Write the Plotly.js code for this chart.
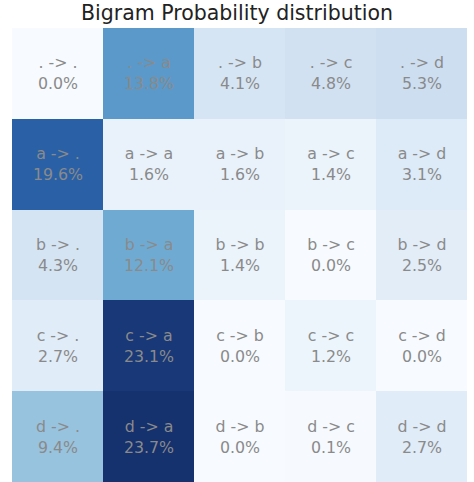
<!DOCTYPE html>
<html>
<head>
<meta charset="utf-8">
<script src="https://cdn.plot.ly/plotly-3.0.1.min.js"></script>
<style>html,body{margin:0;padding:0;background:#fff;}</style>
</head>
<body>
<div id="chart" style="width:474px;height:482px;"></div>
<script>
const chars = [".", "a", "b", "c", "d"];
const probs = [
  [0.0, 13.8, 4.1, 4.8, 5.3],
  [19.6, 1.6, 1.6, 1.4, 3.1],
  [4.3, 12.1, 1.4, 0.0, 2.5],
  [2.7, 23.1, 0.0, 1.2, 0.0],
  [9.4, 23.7, 0.0, 0.1, 2.7]
];
const labels = probs.map((row, i) => row.map((v, j) =>
  chars[i] + " -> " + chars[j] + "<br>" + v.toFixed(1) + "%"));

const blues = [
  [0.0, "#f7fbff"], [0.125, "#deebf7"], [0.25, "#c9dbee"], [0.375, "#a0c8e0"],
  [0.5, "#72acd4"], [0.625, "#4e8fc4"], [0.75, "#3372b2"], [0.875, "#24569f"], [1.0, "#15316e"]
];

Plotly.newPlot("chart", [{
  type: "heatmap",
  z: probs,
  x: chars,
  y: chars,
  text: labels,
  texttemplate: "%{text}",
  textfont: {family: "DejaVu Sans", size: 15.8, color: "#8a8a8a"},
  colorscale: blues,
  zmin: 0,
  zmax: 23.7,
  showscale: false,
  hoverinfo: "none",
  xgap: 0, ygap: 0
}], {
  width: 474, height: 482,
  margin: {l: 12, r: 7, t: 28, b: 0},
  paper_bgcolor: "#fff",
  plot_bgcolor: "#fff",
  title: {text: "Bigram Probability distribution", x: 0.5, xanchor: "center", y: 0.974, yanchor: "middle",
          font: {family: "DejaVu Sans", size: 20.5, color: "#222"}},
  xaxis: {visible: false, type: "category"},
  yaxis: {visible: false, type: "category", autorange: "reversed"}
}, {staticPlot: true});
</script>
</body>
</html>
